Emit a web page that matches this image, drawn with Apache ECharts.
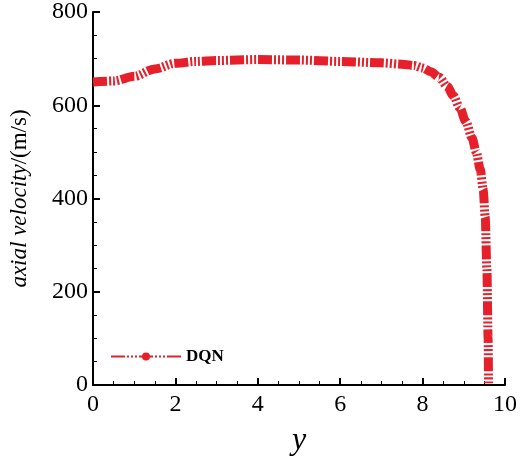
<!DOCTYPE html>
<html><head><meta charset="utf-8">
<script src="https://cdn.jsdelivr.net/npm/echarts@6/dist/echarts.min.js"></script>
<style>html,body{margin:0;padding:0;background:#fff}#c{width:520px;height:462px}</style>
</head><body><div id="c"></div>
<script>
const xVals = [0,0.5,1,1.5,2,2.5,3,4,5,6,7,7.5,7.8,8.0,8.2,8.4,8.6,8.75,8.9,9.05,9.2,9.3,9.4,9.47,9.52,9.56,9.59,9.6];
const yVals = [650,652,662,678,690,694,696,698,697,694,691,688,685,680,672,660,640,620,595,565,530,500,462,420,360,250,100,0];
const seriesName = 'DQN';
const font = 'Liberation Serif';
const chart = echarts.init(document.getElementById('c'));
chart.setOption({
  animation:false,
  grid:{left:85,right:13,top:10,bottom:69},
  legend:{left:105,top:343,itemWidth:70,itemHeight:10,textStyle:{fontFamily:font,fontWeight:'bold',fontSize:17,color:'#000'},
    data:[{name:seriesName}]},
  xAxis:{type:'value',min:0,max:10,interval:2,
    name:'y',nameLocation:'middle',nameGap:40,nameTextStyle:{fontFamily:font,fontStyle:'italic',fontSize:32,color:'#000'},
    axisLine:{lineStyle:{color:'#000',width:2}},
    axisTick:{inside:true,length:7,lineStyle:{color:'#000',width:2}},
    minorTick:{show:true,splitNumber:4,length:4,lineStyle:{color:'#000'}},
    splitLine:{show:false},
    axisLabel:{fontFamily:font,fontSize:24,color:'#000',margin:8}},
  yAxis:{type:'value',min:0,max:800,interval:200,
    name:'{i|axial velocity}{n|/(m/s)}',nameLocation:'middle',nameGap:62,
    nameTextStyle:{rich:{i:{fontFamily:font,fontStyle:'italic',fontSize:23,color:'#000'},n:{fontFamily:font,fontSize:23,color:'#000'}}},
    axisLine:{show:true,lineStyle:{color:'#000',width:2}},
    axisTick:{show:true,inside:true,length:7,lineStyle:{color:'#000',width:2}},
    minorTick:{show:true,splitNumber:4,length:4,lineStyle:{color:'#000'}},
    splitLine:{show:false},
    axisLabel:{fontFamily:font,fontSize:24,color:'#000',margin:5}},
  series:[{name:seriesName,type:'line',smooth:0.3,smoothMonotone:'x',showSymbol:false,symbol:'none',
    data:xVals.map((x,i)=>[x,yVals[i]]),
    itemStyle:{color:'#e5202a'},
    lineStyle:{color:'#e5202a',width:9,type:[14,2,2,2,2,2,2,2]}}]
});
</script></body></html>
